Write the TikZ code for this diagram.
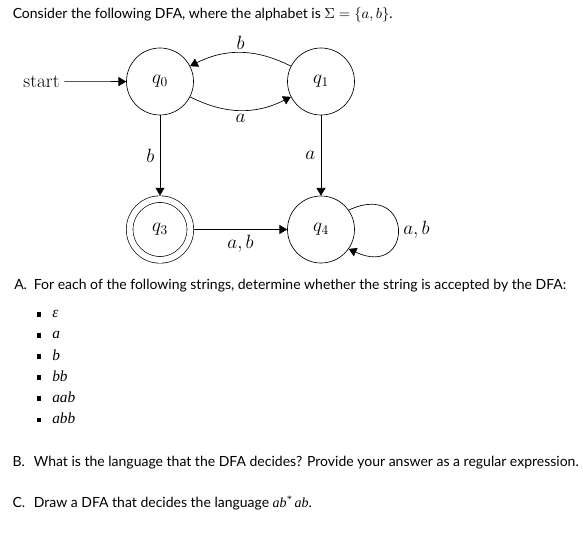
\documentclass[tikz,border=0pt]{standalone}
\usepackage{amsmath,amssymb}
\usepackage[no-math]{fontspec}
\setmainfont{Lato}
\newfontfamily\serifit{Liberation Serif}
\newfontfamily\lmroman{Latin Modern Roman}
\usepackage{tikz}
\usetikzlibrary{arrows.meta,positioning}
\newcommand{\strit}[1]{{\serifit\itshape #1}}

\begin{document}
\begin{tikzpicture}[
    x=0.75pt,y=0.75pt,
    dfastate/.style = {circle, draw, line width=0.5pt, minimum size=50.25pt,
                       inner sep=0pt, font=\Large},
    dfafinal/.style = {dfastate, double, double distance=4.5pt,
                       minimum size=45.5pt, outer sep=2.75pt},
    trans/.style    = {-{Triangle[length=5.8pt,width=6.8pt]}, line width=0.5pt},
    lab/.style      = {font=\Large\lmroman, inner sep=2.5pt},
    txt/.style      = {anchor=base west, inner sep=0pt,
                       font=\fontsize{10.5}{12.6}\selectfont},
    puce/.style     = {fill, inner sep=0pt, minimum size=3.6pt},
  ]
  \useasboundingbox (0,0) rectangle (583,-539);

  % ── Question ────────────────────────────────────────────────────────────
  \node[txt] (intro) at (12.5,-18)
       {Consider the following DFA, where the alphabet is $\Sigma = \{a, b\}$.};

  % ── States ──────────────────────────────────────────────────────────────
  \node[dfastate] (q0) at (160,-81.5) {$q_0$};
  \node[dfastate] (q1) at (321,-81.5) {$q_1$};
  \node[dfafinal] (q3) at (160,-229.5) {$q_3$};
  \node[dfastate] (q4) at (321,-229.5) {$q_4$};
  \node[lab,inner sep=3.5pt] (start) at (41.5,-81.7) {start};

  % ── Transitions ─────────────────────────────────────────────────────────
  \draw[trans] (start) -- (q0);
  \draw[trans] (q0) to[bend right=27] node[lab,below] {$a$} (q1);
  \draw[trans] (q1) to[bend right=27] node[lab,above] {$b$} (q0);
  \draw[trans] (q0) -- node[lab,left,inner sep=4pt] {$b$} (q3);
  \draw[trans] (q1) -- node[lab,left,inner sep=4pt] {$a$} (q4);
  \draw[trans] (q3) -- node[lab,below,inner sep=4pt] {$a, b$} (q4);
  \draw[trans] (q4.35) to[out=25,in=-25,distance=54pt]
       node[lab,right,inner sep=4pt] {$a, b$} (q4.-35);

  % ── Part A ──────────────────────────────────────────────────────────────
  \node[txt] (pa) at (14,-289.5) {A.};
  \node[txt] (patext) at (33.6,-289.5)
       {For each of the following strings, determine whether the string is accepted by the DFA:};
  \foreach \w [count=\i] in {ε,a,b,bb,aab,abb} {
    \node[puce] (dot\i) at (39,-314.3-21.14*\i+21.14) {};
    \node[txt,font=\fontsize{11.5}{13}\selectfont] (str\i)
         at (52,-317.8-21.14*\i+21.14) {\strit{\w}};
  }

  % ── Parts B and C ───────────────────────────────────────────────────────
  \node[txt] (pb) at (12.3,-466) {B.};
  \node[txt] (pbtext) at (33.6,-466)
       {What is the language that the DFA decides? Provide your answer as a regular expression.};
  \node[txt] (pc) at (12.3,-507.8) {C.};
  \node[txt] (pctext) at (33.6,-507.8)
       {Draw a DFA that decides the language \strit{ab\textsuperscript{*}\,ab}.};
\end{tikzpicture}
\end{document}
